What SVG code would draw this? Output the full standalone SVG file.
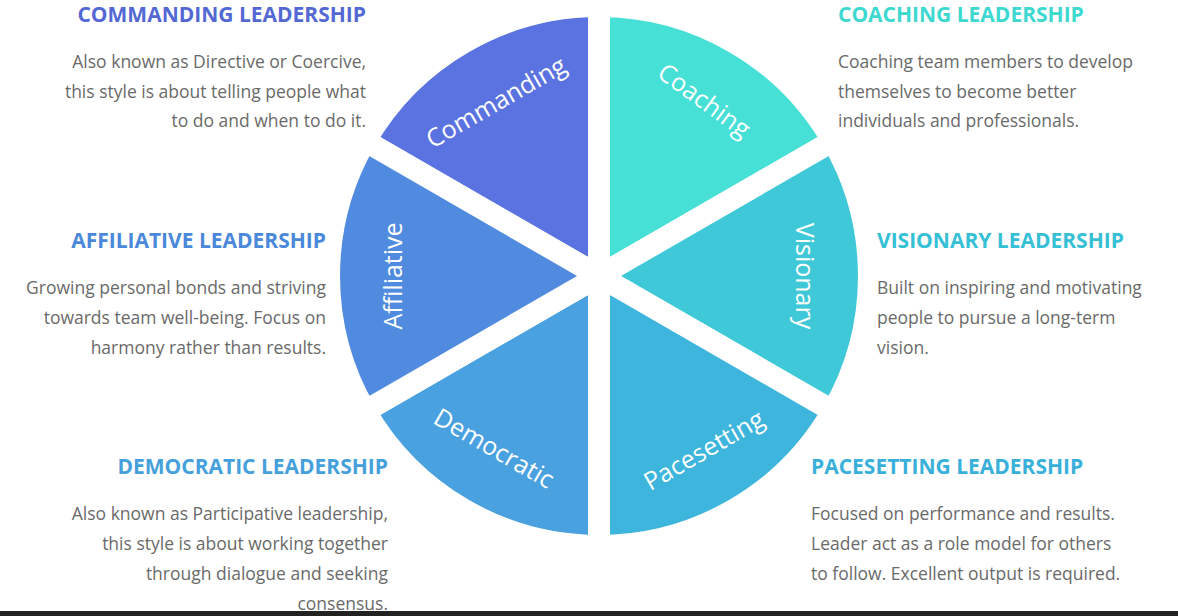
<svg xmlns="http://www.w3.org/2000/svg" width="1178" height="616" viewBox="0 0 1178 616">
<style>
.w{stroke:#fff;stroke-width:22;stroke-linejoin:miter}
.lab{font-family:"Open Sans",sans-serif;font-size:25px;fill:#fff;text-anchor:middle;dominant-baseline:middle}
.t{font-family:"Open Sans",sans-serif;font-size:21px;font-weight:bold}
.b{font-family:"Open Sans",sans-serif;font-size:17.5px;fill:#6a6a6a}
.e{text-anchor:end}
</style>
<rect width="1178" height="616" fill="#fff"/>
<g id="connectors"></g>
<g id="commanding">
<path class="w" fill="#5B73E1" d="M599,276 L599,6 A270,270 0 0 0 365.2,141 Z"/>
<text class="lab" transform="translate(497,104) rotate(-30)">Commanding</text>
<text class="t e" x="366" y="22" fill="#5468D4">COMMANDING LEADERSHIP</text>
<text class="b e" x="366" y="68">Also known as Directive or Coercive,</text>
<text class="b e" x="366" y="98">this style is about telling people what</text>
<text class="b e" x="366" y="127">to do and when to do it.</text>
</g>
<g id="coaching">
<path class="w" fill="#47E0D6" d="M599,276 L832.8,141 A270,270 0 0 0 599,6 Z"/>
<text class="lab" transform="translate(703,102) rotate(36)">Coaching</text>
<text class="t" x="838" y="22" fill="#3DD8CF">COACHING LEADERSHIP</text>
<text class="b" x="838" y="68">Coaching team members to develop</text>
<text class="b" x="838" y="98">themselves to become better</text>
<text class="b" x="838" y="127">individuals and professionals.</text>
</g>
<g id="visionary">
<path class="w" fill="#3FC9D8" d="M599,276 L832.8,411 A270,270 0 0 0 832.8,141 Z"/>
<text class="lab" transform="translate(803,276) rotate(90)">Visionary</text>
<text class="t" x="877" y="248" fill="#35C0D5">VISIONARY LEADERSHIP</text>
<text class="b" x="877" y="294">Built on inspiring and motivating</text>
<text class="b" x="877" y="324">people to pursue a long-term</text>
<text class="b" x="877" y="354">vision.</text>
</g>
<g id="pacesetting">
<path class="w" fill="#3DB5DC" d="M599,276 L599,546 A270,270 0 0 0 832.8,411 Z"/>
<text class="lab" transform="translate(705,452) rotate(-30)">Pacesetting</text>
<text class="t" x="811" y="474" fill="#38B0DA">PACESETTING LEADERSHIP</text>
<text class="b" x="811" y="520">Focused on performance and results.</text>
<text class="b" x="811" y="550">Leader act as a role model for others</text>
<text class="b" x="811" y="580">to follow. Excellent output is required.</text>
</g>
<g id="democratic">
<path class="w" fill="#4AA1DF" d="M599,276 L365.2,411 A270,270 0 0 0 599,546 Z"/>
<text class="lab" transform="translate(493,450) rotate(30)">Democratic</text>
<text class="t e" x="388" y="474" fill="#45A0DC">DEMOCRATIC LEADERSHIP</text>
<text class="b e" x="388" y="520">Also known as Participative leadership,</text>
<text class="b e" x="388" y="550">this style is about working together</text>
<text class="b e" x="388" y="580">through dialogue and seeking</text>
<text class="b e" x="388" y="610">consensus.</text>
</g>
<g id="affiliative">
<path class="w" fill="#508BDF" d="M599,276 L365.2,141 A270,270 0 0 0 365.2,411 Z"/>
<text class="lab" transform="translate(395,276) rotate(-90)">Affiliative</text>
<text class="t e" x="326" y="248" fill="#4A88DA">AFFILIATIVE LEADERSHIP</text>
<text class="b e" x="326" y="294">Growing personal bonds and striving</text>
<text class="b e" x="326" y="324">towards team well-being. Focus on</text>
<text class="b e" x="326" y="354">harmony rather than results.</text>
</g>
<rect x="0" y="611" width="1178" height="5" fill="#222"/>
</svg>
